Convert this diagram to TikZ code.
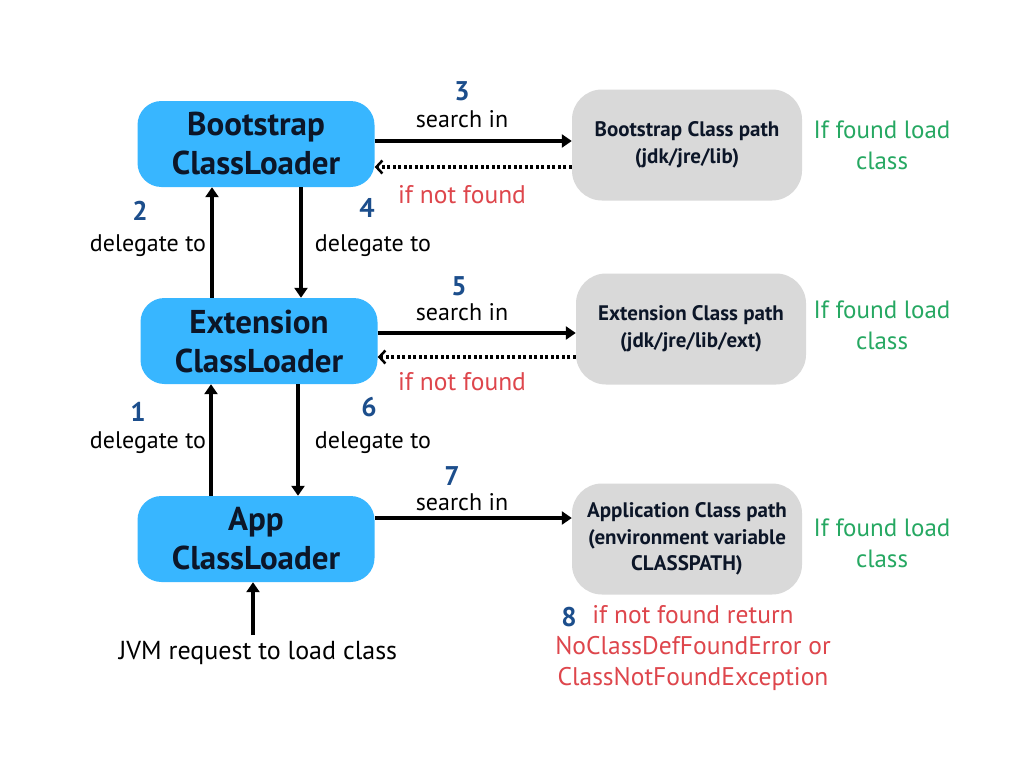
\documentclass[tikz,border=0pt]{standalone}
\usepackage{fontspec}
\setmainfont{PT Sans}
\usetikzlibrary{arrows.meta, positioning}
\definecolor{cBlue}{RGB}{56,182,255}
\definecolor{cGray}{RGB}{217,217,217}
\definecolor{cNum}{RGB}{28,78,140}
\definecolor{cRed}{RGB}{222,70,76}
\definecolor{cGreen}{RGB}{38,168,98}
\definecolor{cInk}{RGB}{12,22,40}
\tikzset{
	loader/.style ={rectangle, rounded corners=24pt, minimum width=237pt, minimum height=86pt, align=center, fill=cBlue, text=cInk, font=\fontsize{33}{39}\selectfont\bfseries},
	cpath/.style  ={rectangle, rounded corners=30pt, minimum width=230pt, minimum height=111pt, align=center, fill=cGray, text=cInk, font=\fontsize{21}{26.5}\selectfont\bfseries},
	found/.style  ={align=center, text=cGreen, font=\fontsize{25}{31}\selectfont},
	num/.style    ={inner sep=0pt, text=cNum, font=\fontsize{27}{30}\selectfont\bfseries},
	lbl/.style    ={inner sep=1pt, font=\fontsize{24}{28}\selectfont},
	miss/.style   ={align=center, text=cRed, font=\fontsize{25.5}{31}\selectfont},
	sig/.style    ={-{Triangle[length=10pt, width=13pt]}, line width=3.2pt},
	back/.style   ={-{Straight Barb[length=6pt, width=13pt, line width=2.5pt]}, line width=3.2pt, dash pattern=on 3pt off 2.5pt},
}
\begin{document}
\begin{tikzpicture}[x=1pt, y=-1pt]
	\fill[white] (0,0) rectangle (1024,768);
	\useasboundingbox (0,0) rectangle (1024,768);
	% class loaders
	\node[loader] (boot) at (256,144) {Bootstrap\\ClassLoader};
	\node[loader] (ext) at (259,341) {Extension\\ClassLoader};
	\node[loader] (app) at (256,539) {App\\ClassLoader};
	% class paths
	\node[cpath] (bootpath) at (687,145) {Bootstrap Class path\\(jdk/jre/lib)};
	\node[cpath] (extpath) at (691,329) {Extension Class path\\(jdk/jre/lib/ext)};
	\node[cpath] (apppath) at (687,539) {Application Class path\\(environment variable\\CLASSPATH)};
	\node[found] (bootok) at (882,145) {If found load\\class};
	\node[found] (extok) at (882,325) {If found load\\class};
	\node[found] (appok) at (882,543) {If found load\\class};
	% search in / if not found
	\draw[sig] ([yshift=3pt]boot.east) -- ([yshift=3pt]boot.east -| bootpath.west);
	\draw[back] ([yshift=-22pt]bootpath.west) -- ([yshift=-22pt]bootpath.west -| boot.east);
	\draw[sig] ([yshift=8pt]ext.east) -- ([yshift=8pt]ext.east -| extpath.west);
	\draw[back] ([yshift=-16pt]ext.east -| extpath.west) -- ([yshift=-16pt]ext.east);
	\draw[sig] ([yshift=21pt]app.east) -- ([yshift=21pt]app.east -| apppath.west);
	\node[num] (n3) at (462,91) {3};
	\node[lbl] (s3) at (462,119) {search in};
	\node[miss] (m3) at (462,195) {if not found};
	\node[num] (n5) at (459,286) {5};
	\node[lbl] (s5) at (462,312) {search in};
	\node[miss] (m5) at (462,382) {if not found};
	\node[num] (n7) at (452,476) {7};
	\node[lbl] (s7) at (462,502) {search in};
	% delegation
	\draw[sig] ([xshift=-47pt]ext.north) -- ([xshift=-47pt]ext.north |- boot.south);
	\draw[sig] ([xshift=45pt]boot.south) -- ([xshift=45pt]boot.south |- ext.north);
	\draw[sig] ([xshift=-45pt]app.north) -- ([xshift=-45pt]app.north |- ext.south);
	\draw[sig] ([xshift=39pt]ext.south) -- ([xshift=39pt]ext.south |- app.north);
	\node[num] (n2) at (140,211) {2};
	\node[lbl] (d2) at (148,246) {delegate to};
	\node[num] (n4) at (367,208) {4};
	\node[lbl] (d4) at (373,246) {delegate to};
	\node[num] (n1) at (138,412) {1};
	\node[lbl] (d1) at (148,443) {delegate to};
	\node[num] (n6) at (369,407) {6};
	\node[lbl] (d6) at (373,443) {delegate to};
	% request
	\node[lbl, font=\fontsize{26}{30}\selectfont] (jvm) at (258,653) {JVM request to load class};
	\draw[sig] ([xshift=-5pt, yshift=5pt]jvm.north) -- ([xshift=-5pt]jvm.north |- app.south);
	% not found at all
	\node[num] (n8) at (569,617) {8};
	\node[miss] (m8) at (693,648) {if not found return\\NoClassDefFoundError or\\ClassNotFoundException};
\end{tikzpicture}
\end{document}
